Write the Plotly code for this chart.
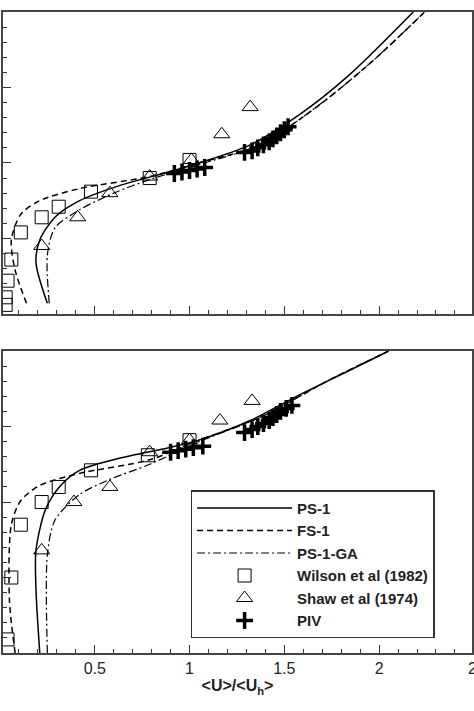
import plotly.graph_objects as go
from plotly.subplots import make_subplots

# panel 1 (top)
ps1_x_a = [0.25, 0.19, 0.21, 0.29, 0.42, 0.63, 0.89, 1.05, 1.32, 1.58, 1.84, 2.18]
ps1_y_a = [0.07, 0.34, 0.49, 0.64, 0.75, 0.85, 0.94, 1.00, 1.12, 1.32, 1.58, 2.00]
fs1_x_a = [0.14, 0.08, 0.06, 0.11, 0.21, 0.42, 0.79, 1.05, 1.37, 1.68, 1.97, 2.24]
fs1_y_a = [0.07, 0.29, 0.49, 0.66, 0.75, 0.83, 0.91, 1.00, 1.12, 1.38, 1.68, 2.00]
ga_x_a = [0.26, 0.25, 0.29, 0.42, 0.60, 0.79, 1.05, 1.37, 1.68, 1.97, 2.24]
ga_y_a = [0.07, 0.39, 0.57, 0.69, 0.80, 0.89, 0.99, 1.12, 1.38, 1.68, 2.00]
wil_x_a = [0.03, 0.03, 0.04, 0.06, 0.11, 0.22, 0.31, 0.48, 0.79, 1.00]
wil_y_a = [0.06, 0.11, 0.22, 0.36, 0.54, 0.64, 0.71, 0.81, 0.90, 1.02]
shaw_x_a = [0.22, 0.41, 0.58, 0.79, 1.01, 1.17, 1.32]
shaw_y_a = [0.45, 0.64, 0.80, 0.91, 1.02, 1.19, 1.37]
piv_x_a = [0.92, 0.96, 1.00, 1.04, 1.08, 1.29, 1.33, 1.36, 1.39, 1.42, 1.44, 1.46, 1.48, 1.50, 1.52]
piv_y_a = [0.93, 0.94, 0.95, 0.96, 0.97, 1.07, 1.08, 1.10, 1.12, 1.14, 1.16, 1.18, 1.20, 1.22, 1.24]

# panel 2 (bottom)
ps1_x_b = [0.21, 0.19, 0.19, 0.24, 0.32, 0.42, 0.63, 0.89, 1.05, 1.32, 1.58, 1.84, 2.05]
ps1_y_b = [0.00, 0.42, 0.68, 0.95, 1.11, 1.21, 1.29, 1.36, 1.41, 1.54, 1.71, 1.87, 2.00]
fs1_x_b = [0.08, 0.05, 0.06, 0.11, 0.21, 0.42, 0.79, 1.05, 1.37, 1.74, 2.05]
fs1_y_b = [0.00, 0.35, 0.85, 1.01, 1.11, 1.19, 1.28, 1.41, 1.56, 1.81, 2.00]
ga_x_b = [0.25, 0.25, 0.29, 0.42, 0.58, 0.79, 1.05, 1.37, 1.74, 2.05]
ga_y_b = [0.00, 0.65, 0.88, 1.05, 1.15, 1.25, 1.40, 1.56, 1.81, 2.00]
wil_x_b = [0.04, 0.06, 0.11, 0.22, 0.31, 0.48, 0.78, 1.00]
wil_y_b = [0.09, 0.50, 0.85, 1.00, 1.10, 1.21, 1.31, 1.41]
shaw_x_b = [0.22, 0.39, 0.58, 0.79, 1.00, 1.16, 1.33]
shaw_y_b = [0.68, 1.00, 1.10, 1.33, 1.41, 1.54, 1.67]
piv_x_b = [0.90, 0.94, 0.98, 1.02, 1.07, 1.29, 1.33, 1.36, 1.39, 1.42, 1.44, 1.46, 1.48, 1.51, 1.54]
piv_y_b = [1.33, 1.34, 1.35, 1.36, 1.37, 1.46, 1.48, 1.50, 1.52, 1.54, 1.56, 1.58, 1.60, 1.62, 1.64]

x_ticks = [0.5, 1, 1.5, 2]
x_tick_text = ['0.5', '1', '1.5', '2']

fig = make_subplots(rows=2, cols=1, vertical_spacing=0.058)

panels = [
    (1, ps1_x_a, ps1_y_a, fs1_x_a, fs1_y_a, ga_x_a, ga_y_a, wil_x_a, wil_y_a, shaw_x_a, shaw_y_a, piv_x_a, piv_y_a),
    (2, ps1_x_b, ps1_y_b, fs1_x_b, fs1_y_b, ga_x_b, ga_y_b, wil_x_b, wil_y_b, shaw_x_b, shaw_y_b, piv_x_b, piv_y_b),
]
for row, px1, py1, fx, fy, gx, gy, wx, wy, sx, sy, vx, vy in panels:
    leg = row == 2
    fig.add_trace(go.Scatter(x=px1, y=py1, mode='lines', name='PS-1', showlegend=leg,
                             line=dict(color='black', width=1.5, shape='spline', smoothing=0.8)), row=row, col=1)
    fig.add_trace(go.Scatter(x=fx, y=fy, mode='lines', name='FS-1', showlegend=leg,
                             line=dict(color='black', width=1.5, dash='6px,4px', shape='spline', smoothing=0.8)), row=row, col=1)
    fig.add_trace(go.Scatter(x=gx, y=gy, mode='lines', name='PS-1-GA', showlegend=leg,
                             line=dict(color='black', width=1.2, dash='8px,3px,2px,3px', shape='spline', smoothing=0.8)), row=row, col=1)
    fig.add_trace(go.Scatter(x=wx, y=wy, mode='markers', name='Wilson et al (1982)', showlegend=leg,
                             marker=dict(symbol='square-open', size=13, color='black', line=dict(width=1))), row=row, col=1)
    fig.add_trace(go.Scatter(x=sx, y=sy, mode='markers', name='Shaw et al (1974)', showlegend=leg,
                             marker=dict(symbol='triangle-up-open', size=14, color='black', line=dict(width=1))), row=row, col=1)
    fig.add_trace(go.Scatter(x=vx, y=vy, mode='markers', name='PIV', showlegend=leg,
                             marker=dict(symbol='cross-thin-open', size=12, color='black', line=dict(width=3.5))), row=row, col=1)

axis_common = dict(showline=True, linecolor='#444', linewidth=2, mirror=True, showgrid=False,
                   zeroline=False, ticks='inside', tickcolor='#333')
fig.update_xaxes(range=[0.016, 2.49], tickvals=x_ticks, ticktext=x_tick_text, ticklen=8,
                 minor=dict(dtick=0.1, ticks='inside', ticklen=4, tickcolor='#333'),
                 tickfont=dict(family='Liberation Sans', size=16, color='#222'), **axis_common)
fig.update_xaxes(showticklabels=False, row=1, col=1)
fig.update_xaxes(title=dict(text='<b>&lt;U&gt;/&lt;U<sub>h</sub>&gt;</b>', standoff=4,
                            font=dict(family='Liberation Sans', size=16, color='#222')), row=2, col=1)
fig.update_yaxes(range=[0, 2], dtick=0.5, ticklen=8, showticklabels=False,
                 minor=dict(dtick=0.1, ticks='inside', ticklen=4, tickcolor='#333'), **axis_common)

# cropped "2.5" label at the right edge
fig.add_annotation(x=2.49, y=0, xref='x2', yref='paper', yshift=-5, text='2', showarrow=False,
                   xanchor='center', yanchor='top',
                   font=dict(family='Liberation Sans', size=16, color='#222'))

fig.update_layout(
    width=474, height=711,
    margin=dict(l=3, r=0, t=12, b=58),
    plot_bgcolor='white', paper_bgcolor='white',
    legend=dict(x=0.40, y=0.023, xanchor='left', yanchor='bottom', bgcolor='white',
                bordercolor='#333', borderwidth=1.5, tracegroupgap=0, itemwidth=95,
                font=dict(family='Liberation Sans', size=15, color='#222', weight='bold')),
)

fig.write_html("out.html", config={'displayModeBar': False},
               post_script="document.body.style.margin='0';")
